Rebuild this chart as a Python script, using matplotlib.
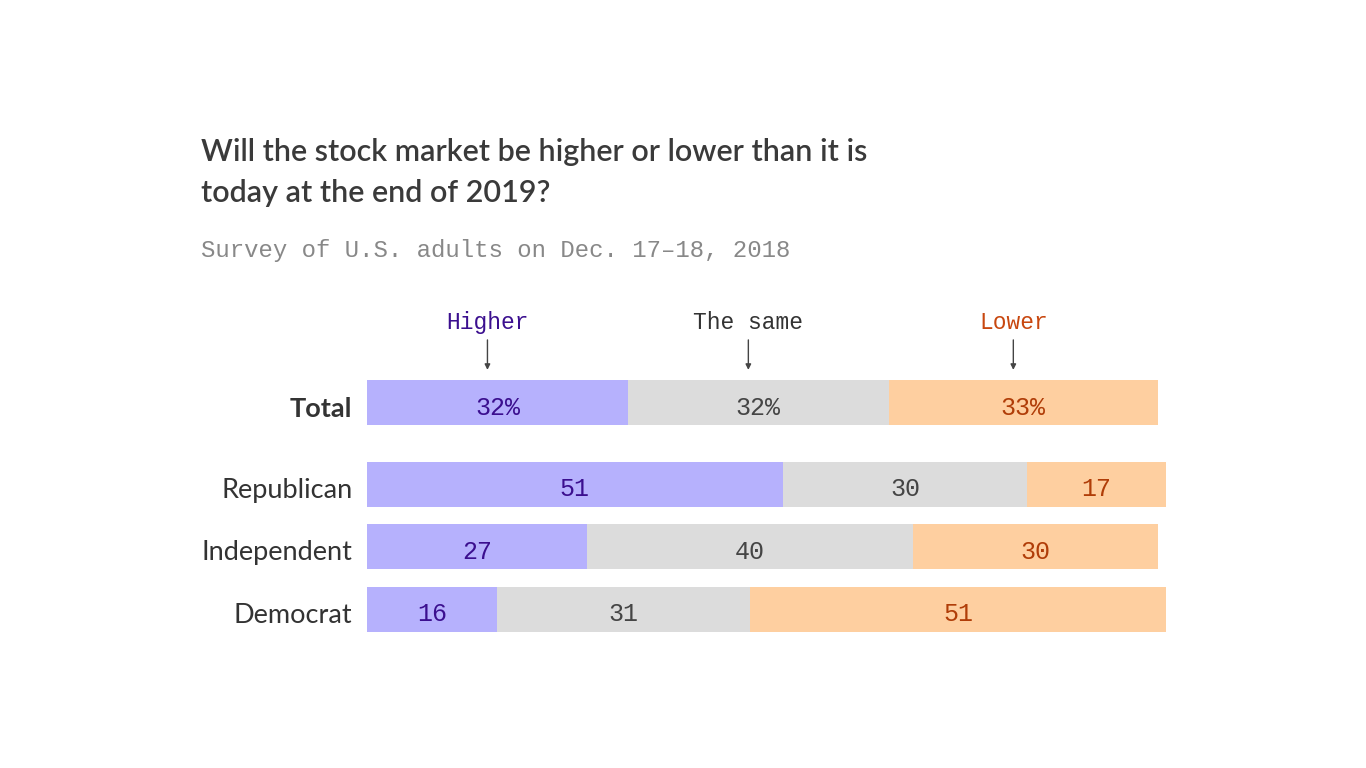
import matplotlib.pyplot as plt
from matplotlib.transforms import offset_copy

groups = ['Total', 'Republican', 'Independent', 'Democrat']
higher = [32, 51, 27, 16]
same = [32, 30, 40, 31]
lower = [33, 17, 30, 51]
series_names = ['Higher', 'The same', 'Lower']

ypos = [0, 1.3, 2.3, 3.3]
bar_colors = ['#b6b1fd', '#dcdcdc', '#fecfa0']
text_colors = ['#3b0f8f', '#454545', '#b03d08']
head_colors = ['#3b0f8f', '#333333', '#c8470f']

sans = ['Lato', 'DejaVu Sans']
mono = ['Liberation Mono', 'DejaVu Sans Mono']

W, H = 1366, 768
fig = plt.figure(figsize=(W / 100, H / 100), dpi=100)

# axes in pixel terms: x 367..1166, y 380.5..631.5
ax = fig.add_axes([367 / W, 1 - 631.5 / H, 799 / W, 251 / H])
ax.set_xlim(0, 98)
ax.set_ylim(3.66, -0.36)
ax.axis('off')

# headers and arrows sit a little left of the segment centres
shifted = offset_copy(ax.transData, fig=fig, x=-10, y=0, units='dots')

series = [higher, same, lower]
left = [0] * len(groups)
for k, vals in enumerate(series):
    ax.barh(ypos, vals, left=left, height=0.72, color=bar_colors[k], linewidth=0)
    for i, v in enumerate(vals):
        label = f'{v}%' if i == 0 else str(v)
        ax.text(left[i] + v / 2, ypos[i] + 0.08, label, ha='center', va='center',
                fontsize=18, family=mono, color=text_colors[k])
    cx = left[0] + vals[0] / 2
    ax.annotate('', xy=(cx, ypos[0] - 0.53), xytext=(cx, ypos[0] - 1.01),
                xycoords=shifted, textcoords=shifted,
                arrowprops=dict(arrowstyle='-|>', color='#444444', lw=1,
                                mutation_scale=8, shrinkA=0, shrinkB=0),
                annotation_clip=False)
    ax.annotate(series_names[k], xy=(cx, ypos[0]), xytext=(-10, 80),
                textcoords='offset pixels', ha='center', va='center',
                fontsize=16.5, family=mono, color=head_colors[k],
                annotation_clip=False)
    left = [a + b for a, b in zip(left, vals)]

for i, g in enumerate(groups):
    ax.text(-1.8, ypos[i] + 0.1, g, ha='right', va='center', fontsize=19.5,
            family=sans, color='#333333',
            fontweight='bold' if g == 'Total' else 'normal')

fig.text(201 / W, 1 - 152 / H, 'Will the stock market be higher or lower than it is',
         ha='left', va='center', fontsize=22, family=sans, fontweight='semibold',
         color='#3a3a3a')
fig.text(201 / W, 1 - 193 / H, 'today at the end of 2019?',
         ha='left', va='center', fontsize=22, family=sans, fontweight='semibold',
         color='#3a3a3a')
fig.text(201 / W, 1 - 250 / H, 'Survey of U.S. adults on Dec. 17\u201318, 2018',
         ha='left', va='center', fontsize=17.3, family=mono, color='#888888')

fig.savefig('out.png', dpi=100, facecolor='white')
